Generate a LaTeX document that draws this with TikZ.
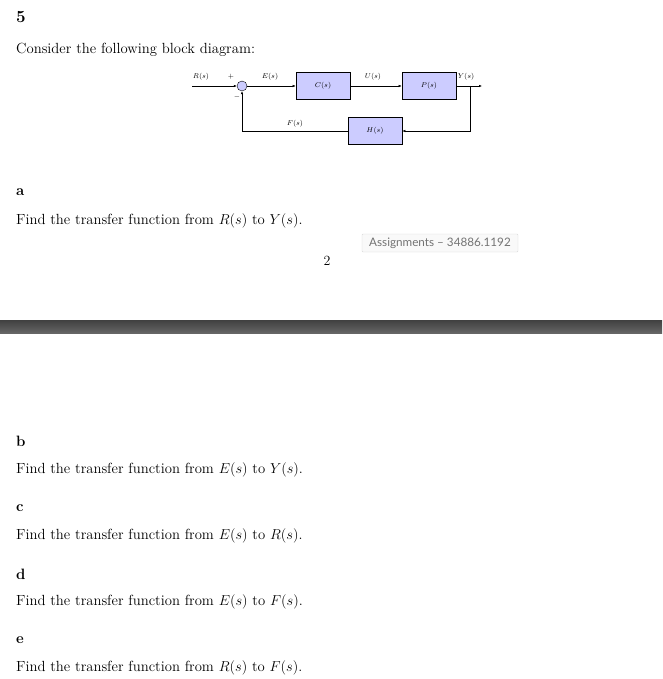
\documentclass[tikz,border=0pt]{standalone}
\usepackage{fontspec}
\usetikzlibrary{arrows.meta}
\newfontfamily\tagfont{Lato}
\begin{document}
\begin{tikzpicture}[x=1pt,y=-1pt,
  blk/.style={draw,line width=0.6pt,fill=blue!20,minimum width=54pt,minimum height=27pt,inner sep=0pt,font=\fontsize{7}{8}\selectfont},
  lbl/.style={font=\fontsize{7}{8}\selectfont,inner sep=1pt},
  txt/.style={anchor=west,font=\fontsize{14.7}{17}\selectfont,inner sep=0pt},
  hd/.style={anchor=west,font=\fontsize{15}{17}\selectfont\bfseries,inner sep=0pt},
  sig/.style={-{Latex[length=3pt,width=2.5pt]},line width=0.5pt}]
\useasboundingbox (0,0) rectangle (662,679);
\node[hd,font=\fontsize{17}{19}\selectfont\bfseries] (n5) at (16,17) {5};
\node[txt] (t0) at (16,50) {Consider the following block diagram:};
\node[draw,circle,fill=blue!20,minimum size=10pt,inner sep=0pt] (sum) at (242,86) {};
\node[blk] (C) at (323,86) {$C(s)$};
\node[blk] (P) at (429,86) {$P(s)$};
\node[blk] (H) at (375,131) {$H(s)$};
\coordinate (rin) at (192,86);
\coordinate (yout) at (482,86);
\coordinate (tap) at (470,86);
\draw[sig] (rin) -- (sum);
\draw[sig] (sum) -- (C);
\draw[sig] (C) -- (P);
\draw[sig] (P) -- (yout);
\draw[sig] (tap) |- (H);
\draw[sig] (H) -| (sum);
\node[lbl] (lr) at (201,77) {$R(s)$};
\node[lbl] (le) at (270,77) {$E(s)$};
\node[lbl] (lu) at (373,77) {$U(s)$};
\node[lbl] (ly) at (466,77) {$Y(s)$};
\node[lbl] (lf) at (295,124) {$F(s)$};
\node[lbl] (lp) at (231,77) {$+$};
\node[lbl] (lm) at (237,97) {$-$};
\node[hd] (ha) at (16,192) {a};
\node[txt] (ta) at (16,221) {Find the transfer function from $R(s)$ to $Y(s)$.};
\node[draw=gray!30,fill=gray!5,rounded corners=1pt,minimum width=156pt,minimum height=18pt,font=\tagfont\fontsize{11.7}{13}\selectfont,text=gray!90!black] (tag) at (440,243) {Assignments – 34886.1192};
\node[font=\fontsize{14}{16}\selectfont,inner sep=0pt] (pg) at (327,261) {2};
\shade[top color=black!75,bottom color=black!60] (0,320) rectangle (662,333);
\node[hd] (hb) at (16,441) {b};
\node[txt] (tb) at (16,470) {Find the transfer function from $E(s)$ to $Y(s)$.};
\node[hd] (hc) at (16,508) {c};
\node[txt] (tc) at (16,536) {Find the transfer function from $E(s)$ to $R(s)$.};
\node[hd] (hdd) at (16,574) {d};
\node[txt] (td) at (16,602) {Find the transfer function from $E(s)$ to $F(s)$.};
\node[hd] (he) at (16,640) {e};
\node[txt] (te) at (16,668) {Find the transfer function from $R(s)$ to $F(s)$.};
\end{tikzpicture}
\end{document}
